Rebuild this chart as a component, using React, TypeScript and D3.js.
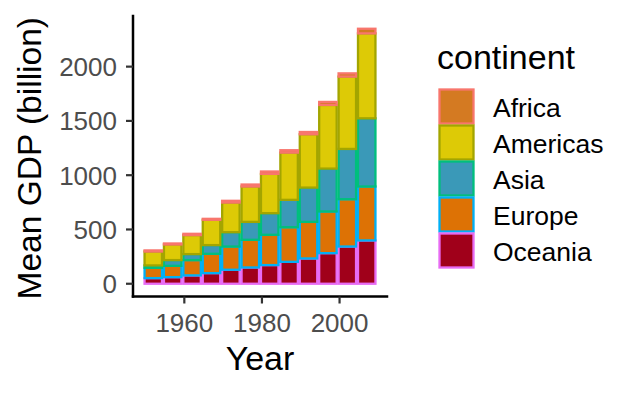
import React from 'react';
import * as d3 from 'd3';

// mean GDP per continent, billions
const years = [1952, 1957, 1962, 1967, 1972, 1977, 1982, 1987, 1992, 1997, 2002, 2007];
const continents = ['Africa', 'Americas', 'Asia', 'Europe', 'Oceania'];
const africa = [10, 9, 12, 9, 16, 18, 22, 22, 21, 28, 30, 43];
const americas = [128, 144, 175, 233, 273, 326, 362, 435, 491, 586, 666, 782];
const asia = [22, 53, 55, 80, 132, 165, 199, 252, 316, 395, 463, 628];
const europe = [95, 104, 141, 178, 214, 255, 279, 319, 337, 384, 436, 497];
const oceania = [52, 61, 77, 98, 129, 150, 172, 202, 233, 282, 343, 399];
const yTicks = [0, 500, 1000, 1500, 2000];
const xTicks = [1960, 1980, 2000];

const fills = ['#D47A22', '#DDCA06', '#3A99B8', '#DD7205', '#A0001A'];
const strokes = ['#F8766D', '#A3A500', '#00BF7D', '#00B0F6', '#E76BF3'];

const series = { Africa: africa, Americas: americas, Asia: asia, Europe: europe, Oceania: oceania };

const FONT = '"Liberation Sans", Arial, Helvetica, sans-serif';

const App = () => {
  const W = 640;
  const H = 395;
  const panel = { left: 133, right: 387, top: 16, bottom: 296.5 };

  const rows = years.map((year, i) => {
    const r: any = { year };
    continents.forEach(c => { r[c] = series[c][i]; });
    return r;
  });

  // ggplot stacks the last factor level at the bottom
  const stacked = d3.stack().keys([...continents].reverse())(rows);

  const barW = 4.5;
  const xMin = d3.min(years) - barW / 2;
  const xMax = d3.max(years) + barW / 2;
  const xPad = (xMax - xMin) * 0.05;
  const x = d3.scaleLinear()
    .domain([xMin - xPad, xMax + xPad])
    .range([panel.left, panel.right]);

  const yMax = d3.max(rows, r => d3.sum(continents, c => r[c]));
  const y = d3.scaleLinear()
    .domain([-yMax * 0.05, yMax * 1.05])
    .range([panel.bottom, panel.top]);

  const color = d3.scaleOrdinal<string>().domain(continents).range(fills);
  const edge = d3.scaleOrdinal<string>().domain(continents).range(strokes);

  const keySize = 36;
  const legendX = 439;
  const legendY = 89;

  return (
    <svg width={W} height={H} style={{ position: 'absolute', left: 0, top: 0 }} fontFamily={FONT}>
      <rect width={W} height={H} fill="#fff" />

      {stacked.map(layer => (
        <g key={layer.key}>
          {layer.map((d, i) => (
            <rect
              key={i}
              x={x(years[i] - barW / 2)}
              width={x(years[i] + barW / 2) - x(years[i] - barW / 2)}
              y={y(d[1])}
              height={y(d[0]) - y(d[1])}
              fill={color(layer.key)}
              stroke={edge(layer.key)}
              strokeWidth={2.3}
            />
          ))}
        </g>
      ))}

      {/* axes */}
      <line x1={panel.left} x2={panel.left} y1={panel.top} y2={panel.bottom} stroke="#000" strokeWidth={2.5} strokeLinecap="square" />
      <line x1={panel.left} x2={panel.right} y1={panel.bottom} y2={panel.bottom} stroke="#000" strokeWidth={2.5} strokeLinecap="square" />

      {yTicks.map(t => (
        <g key={t}>
          <line x1={panel.left - 7} x2={panel.left} y1={y(t)} y2={y(t)} stroke="#333" strokeWidth={2.2} />
          <text x={panel.left - 16} y={y(t)} dy="0.36em" textAnchor="end" fontSize={26} fill="#4D4D4D">{t}</text>
        </g>
      ))}
      {xTicks.map(t => (
        <g key={t}>
          <line x1={x(t)} x2={x(t)} y1={panel.bottom} y2={panel.bottom + 7} stroke="#333" strokeWidth={2.2} />
          <text x={x(t)} y={332} textAnchor="middle" fontSize={26} fill="#4D4D4D">{t}</text>
        </g>
      ))}

      <text x={(panel.left + panel.right) / 2} y={370} textAnchor="middle" fontSize={34}>Year</text>
      <text
        transform={`translate(41,${(panel.top + panel.bottom) / 2 + 2}) rotate(-90)`}
        textAnchor="middle"
        fontSize={33.5}
      >Mean GDP (billion)</text>

      {/* legend */}
      <text x={437} y={69} fontSize={34}>continent</text>
      {continents.map((c, i) => (
        <g key={c}>
          <rect
            x={legendX + 0.5}
            y={legendY + i * keySize + 0.5}
            width={keySize - 2}
            height={keySize - 2}
            fill={color(c)}
            stroke={edge(c)}
            strokeWidth={2.3}
          />
          <text x={493} y={legendY + i * keySize + keySize / 2} dy="0.36em" fontSize={26.5}>{c}</text>
        </g>
      ))}
    </svg>
  );
};

export default App;
